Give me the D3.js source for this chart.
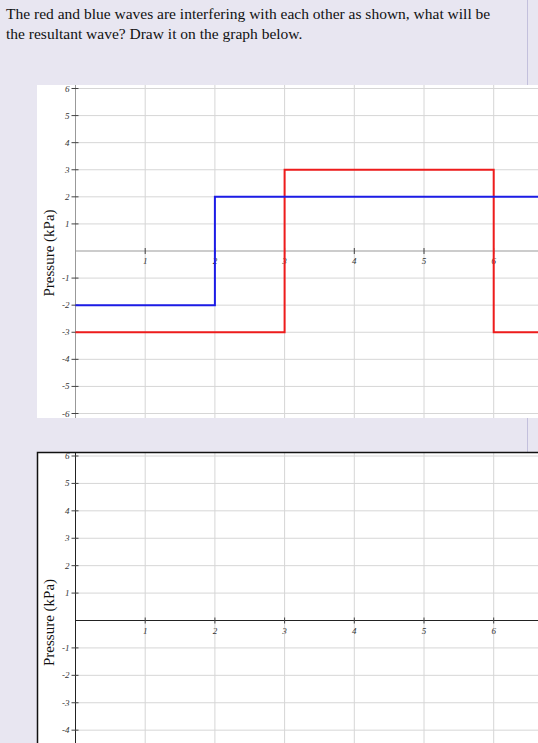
<!DOCTYPE html>
<html><head><meta charset="utf-8">
<script src="https://cdn.jsdelivr.net/npm/d3@7"></script>
<style>
body{margin:0;background:#e8e6f1;width:538px;height:743px;overflow:hidden;position:relative;font-family:"Times New Roman","Liberation Serif","DejaVu Serif",serif;}
#q{position:absolute;left:6px;top:4px;font-size:15.5px;line-height:20px;color:#111;width:505px;font-family:"Times New Roman","Liberation Serif",serif;}
#edge{position:absolute;left:527px;top:0;width:1px;height:85px;background:#c3c0dc;}
#edge2{position:absolute;left:527px;top:418px;width:1px;height:34px;background:#c3c0dc;}
svg{position:absolute;left:0;top:0;}
svg text{font-family:"Times New Roman","Liberation Serif",serif;}
</style></head><body>
<div id="q">The red and blue waves are interfering with each other as shown, what will be the resultant wave? Draw it on the graph below.</div>
<div id="edge"></div><div id="edge2"></div>
<svg id="c" width="538" height="743"></svg>
<script>
const xTicks = [1,2,3,4,5,6];
const yTicks = [-6,-5,-4,-3,-2,-1,1,2,3,4,5,6];
const blueX = [0,2,2,6.7];
const blueY = [-2,-2,2,2];
const redX = [0,3,3,6,6,6.7];
const redY = [-3,-3,3,3,-3,-3];

const svg = d3.select("#c");

function panel(top, bottom, y0, yTop, yMin, dark){
  const g = svg.append("g");
  g.append("rect").attr("x",37).attr("y",top).attr("width",501).attr("height",bottom-top).attr("fill","#fff");
  const x = d3.scaleLinear().domain([0,1]).range([75.5,145.2]);
  const y = d3.scaleLinear().domain([0,6]).range([y0,yTop]);
  const ys = yTicks.filter(v=>v>=yMin);
  // grid
  g.selectAll(".vg").data(xTicks).join("line").attr("x1",d=>x(d)).attr("x2",d=>x(d))
    .attr("y1",top).attr("y2",bottom).attr("stroke","#d6d6d6");
  g.selectAll(".hg").data(ys).join("line").attr("x1",x(0)).attr("x2",538)
    .attr("y1",d=>y(d)).attr("y2",d=>y(d)).attr("stroke","#d6d6d6");
  const ac = dark ? "#222" : "#999";
  g.append("line").attr("x1",x(0)).attr("x2",538).attr("y1",y(0)).attr("y2",y(0)).attr("stroke",ac);
  g.append("line").attr("x1",x(0)).attr("x2",x(0)).attr("y1",top).attr("y2",bottom).attr("stroke",ac);
  g.selectAll(".yt").data(ys).join("line").attr("x1",x(0)-4).attr("x2",x(0)+3)
    .attr("y1",d=>y(d)).attr("y2",d=>y(d)).attr("stroke","#444");
  g.selectAll(".xt").data(xTicks).join("line").attr("x1",d=>x(d)).attr("x2",d=>x(d))
    .attr("y1",y(0)-3).attr("y2",y(0)+3).attr("stroke","#444");
  g.selectAll(".yl").data(ys).join("text").attr("x",x(0)-6).attr("y",d=>y(d)+3)
    .attr("text-anchor","end").attr("font-size",9).attr("font-style","italic").attr("fill","#333").text(d=>d);
  g.selectAll(".xl").data(xTicks).join("text").attr("x",d=>x(d)).attr("y",y(0)+13)
    .attr("text-anchor","middle").attr("font-size",9).attr("font-style","italic").attr("fill","#333").text(d=>d);
  g.append("text").attr("transform",`translate(54,${y(0)+2}) rotate(-90)`).attr("text-anchor","middle")
    .attr("font-size",15).attr("fill","#111").text("Pressure (kPa)");
  if(dark){
    g.append("path").attr("d",`M37.5,${bottom}V${top+0.5}H538`).attr("fill","none").attr("stroke","#111").attr("stroke-width",1.5);
  }
  return {x,y,g};
}

const p1 = panel(85,418,251,88.5,-6,false);
const line = d3.line().x(d=>p1.x(d[0])).y(d=>p1.y(d[1]));
p1.g.append("path").attr("d",line(d3.zip(redX,redY))).attr("fill","none").attr("stroke","#ee1c1c").attr("stroke-width",2);
p1.g.append("path").attr("d",line(d3.zip(blueX,blueY))).attr("fill","none").attr("stroke","#1c1ce6").attr("stroke-width",2);

panel(452,743,620.5,456,-4,true);
</script>
</body></html>
